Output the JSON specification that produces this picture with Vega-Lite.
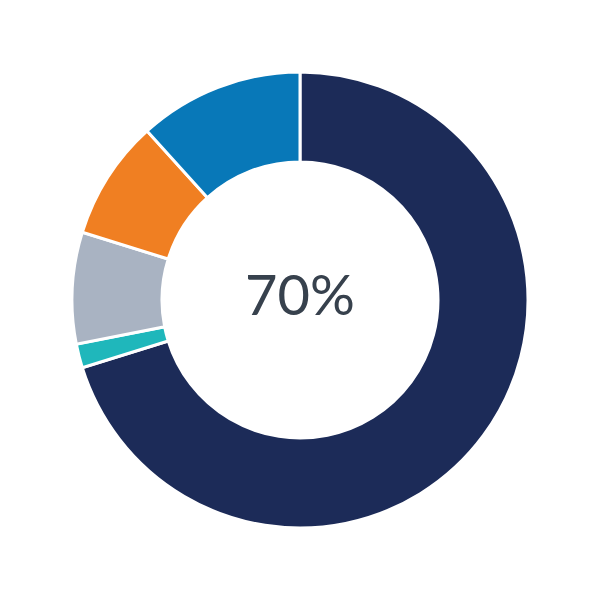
{
  "$schema": "https://vega.github.io/schema/vega-lite/v6.json",
  "width": 600,
  "height": 600,
  "autosize": {"type": "fit", "contains": "padding"},
  "padding": 0,
  "background": "white",
  "view": {"stroke": null},
  "layer": [
    {
      "data": {
        "values": [
          {"segment": "A", "order": 1, "value": 70.2},
          {"segment": "B", "order": 2, "value": 1.7},
          {"segment": "C", "order": 3, "value": 7.9},
          {"segment": "D", "order": 4, "value": 8.5},
          {"segment": "E", "order": 5, "value": 11.7}
        ]
      },
      "mark": {"type": "arc", "outerRadius": 228, "innerRadius": 138, "stroke": "white", "strokeWidth": 3},
      "encoding": {
        "theta": {"field": "value", "type": "quantitative", "stack": true},
        "order": {"field": "order", "type": "quantitative"},
        "color": {
          "field": "segment", "type": "nominal", "legend": null,
          "scale": {"domain": ["A", "B", "C", "D", "E"],
                    "range": ["#1c2b58", "#1fb7bb", "#a9b3c2", "#f07f22", "#0878b8"]}
        }
      }
    },
    {
      "data": {"values": [{"label": "70%"}]},
      "mark": {"type": "text", "font": "Lato", "fontWeight": 400, "fontSize": 56, "color": "#37414d", "align": "center", "baseline": "middle", "dy": -2},
      "encoding": {
        "text": {"field": "label", "type": "nominal"}
      }
    }
  ]
}
